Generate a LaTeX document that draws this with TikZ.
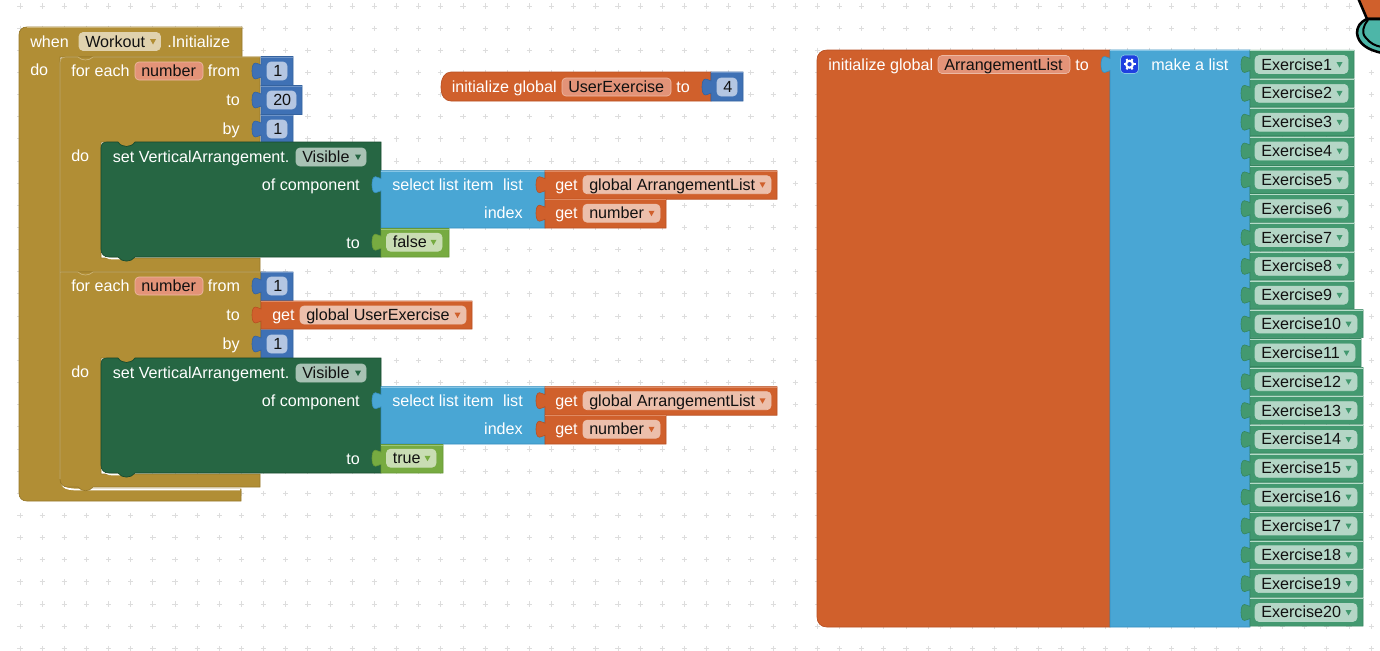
\documentclass[tikz,border=0pt]{standalone}
\usepackage{fontspec}
\setmainfont{Liberation Sans}
\definecolor{bv}{HTML}{3F71B5}\definecolor{bvd}{HTML}{35639F}\definecolor{bvl}{HTML}{6E94C8}
\definecolor{or}{HTML}{D0602C}\definecolor{ord}{HTML}{B84F22}\definecolor{orl}{HTML}{E08A62}
\definecolor{bl}{HTML}{49A6D4}\definecolor{bld}{HTML}{368FBE}\definecolor{bll}{HTML}{86C6E6}
\definecolor{gr}{HTML}{266643}\definecolor{grd}{HTML}{174A2E}\definecolor{grl}{HTML}{266643}
\definecolor{ex}{HTML}{439970}\definecolor{exd}{HTML}{35865F}\definecolor{exl}{HTML}{B5DCC8}
\definecolor{lo}{HTML}{77AB41}\definecolor{lod}{HTML}{679836}\definecolor{lol}{HTML}{9CC675}
\definecolor{go}{HTML}{B18E35}\definecolor{god}{HTML}{97782A}\definecolor{gol}{HTML}{CDB577}
\definecolor{pgo}{HTML}{E0D2AE}\definecolor{pv}{HTML}{E39378}\definecolor{pvb}{HTML}{EDB9A3}
\definecolor{pget}{HTML}{ECBFAB}\definecolor{pgr}{HTML}{A8C2B4}\definecolor{pex}{HTML}{B4D6C6}
\definecolor{plo}{HTML}{C9DDB3}\definecolor{pbv}{HTML}{B4C6E2}\definecolor{gridc}{HTML}{DDDDDD}
\definecolor{teal}{HTML}{4DB6A8}\definecolor{tx}{HTML}{111111}\definecolor{mut}{HTML}{1F40E0}
\newcount\tn
\tikzset{
  lab/.style={inner sep=0pt,font=\fontsize{12.1}{14}\selectfont,text=white},
  labk/.style={inner sep=0pt,font=\fontsize{12.1}{14}\selectfont,text=tx},
}
\newcommand{\txt}[3]{\global\advance\tn by 1 \node[lab,anchor=base west] (n\the\tn) at (#1,#2+5.5) {#3};}
\newcommand{\txtr}[3]{\global\advance\tn by 1 \node[lab,anchor=base east] (n\the\tn) at (#1,#2+5.5) {#3};}
% pill: fill, border, x1, x2, cy, text
\newcommand{\pill}[6]{\fill[fill=#1,draw=#2,line width=.5pt,rounded corners=3pt] (#3,#5-9) rectangle (#4,#5+9);
  \global\advance\tn by 1 \node[labk,anchor=base west] (n\the\tn) at (#3+6,#5+5.5) {#6};}
\newcommand{\darrow}[3]{\fill[#3] (#1-3,#2-2.4) -- (#1+3,#2-2.4) -- (#1,#2+3) -- cycle;}
% value block: x1,y1,x2,y2,cy,colour
\newcommand{\vblock}[6]{\fill[fill=#6,draw=#6d,line width=.45pt] (#1,#2) -- (#3,#2) -- (#3,#4) -- (#1,#4) -- (#1,#5+6)
  .. controls (#1-2,#5+6) and (#1-2.5,#5+8) .. (#1-5.5,#5+8)
  .. controls (#1-8.5,#5+8) and (#1-9,#5+3) .. (#1-9,#5)
  .. controls (#1-9,#5-3) and (#1-8.5,#5-8) .. (#1-5.5,#5-8)
  .. controls (#1-2.5,#5-8) and (#1-2,#5-6) .. (#1,#5-6) -- cycle;
  \draw[#6l,line width=.5pt] (#1,#2+.5) -- (#3,#2+.5);}
% green setter + its children, vertical offset #1
\newcommand{\setter}[4]{%
  \draw[white,line width=1.3pt] (103,#1+252) .. controls (104,#1+256) and (107,#1+258.6) .. (113,#1+258.6) -- (120,#1+258.6);
  \fill[fill=gr,draw=grd,line width=.5pt] (107,#1+142) -- (118,#1+142) .. controls (122,#1+148) and (131,#1+148) .. (135,#1+142) -- (381,#1+142) -- (381,#1+257)
    -- (135,#1+257) .. controls (131,#1+262.5) and (122,#1+262.5) .. (118,#1+257) -- (109,#1+257) .. controls (104,#1+257) and (101,#1+254) .. (101,#1+249) -- (101,#1+148) .. controls (101,#1+144) and (103,#1+142) .. (107,#1+142) -- cycle;
  \txt{112.5}{#1+157}{set VerticalArrangement.}
  \pill{pgr}{pgr}{296}{366}{#1+157}{Visible}\darrow{358}{#1+157}{gr}
  \txtr{360}{#1+184.7}{of component}
  \txtr{360}{#1+242.7}{to}
  \vblock{381}{#1+170.7}{545}{#1+228}{#1+184.7}{bl}
  \txt{392}{#1+184.7}{select list item}
  \txtr{523}{#1+184.7}{list}
  \txtr{523}{#1+213.2}{index}
  \vblock{545}{#1+170.7}{777}{#1+199.2}{#1+184.7}{or}
  \txt{555}{#1+184.7}{get}
  \pill{pget}{pget}{583}{771}{#1+184.7}{global ArrangementList}\darrow{762.5}{#1+184.7}{or}
  \vblock{545}{#1+199.2}{666}{#1+228}{#1+213.2}{or}
  \txt{555}{#1+213.2}{get}
  \pill{pget}{pget}{583}{660}{#1+213.2}{number}\darrow{651.5}{#1+213.2}{or}
  \vblock{381}{#1+228.5}{#2}{#1+257}{#1+242.2}{lo}
  \pill{plo}{plo}{386.5}{#3}{#1+242.2}{#4}\darrow{#3-8.5}{#1+242.2}{lo}
}
\begin{document}
\begin{tikzpicture}[x=0.75pt,y=-0.75pt]
\useasboundingbox (0,0) rectangle (1380,650);
\fill[white] (0,0) rectangle (1380,650);
% workspace grid
\foreach \i in {-1,...,62} \foreach \j in {0,...,29}
  \draw[gridc,line width=.7pt] (20+22.15*\i-2.6,6+22.15*\j) -- ++(5.2,0) (20+22.15*\i,6+22.15*\j-2.6) -- ++(0,5.2);
% mascot corner
\fill[fill=or,draw=black,line width=1.9pt] (1358,-2) -- (1367,19) -- (1382,19) -- (1382,-2) -- cycle;
\fill[fill=teal,draw=black,line width=1.9pt] (1367,19) .. controls (1360,22) and (1357,27) .. (1357,33) .. controls (1358,44) and (1368,50) .. (1382,53) -- (1382,19) -- cycle;
\draw[black,line width=1.5pt] (1368,20) .. controls (1363,26) and (1361,33) .. (1366,38) .. controls (1370,43) and (1375,46) .. (1382,47);
% when block
\fill[fill=go,draw=god,line width=.5pt] (27,27) -- (242,27) -- (242,57) -- (60,57) -- (60,489) -- (241,489) -- (241,501) -- (27,501) .. controls (22,501) and (19,498) .. (19,493) -- (19,35) .. controls (19,30) and (22,27) .. (27,27) -- cycle;
\draw[gol,line width=.5pt] (27,27.5) -- (242,27.5);
\txt{30}{41.5}{when}
\pill{pgo}{pgo}{79}{160.5}{41.5}{Workout}\darrow{153}{41.5}{go}
\txt{167}{41.5}{.Initialize}
\txt{30}{70}{do}
% first for each
\fill[fill=go,draw=god,line width=.5pt] (66,57) -- (260,57) -- (260,142) -- (135,142) .. controls (131,148) and (122,148) .. (118,142) -- (101,142) -- (101,258) -- (260,258) -- (260,272) -- (60,272) -- (60,63) .. controls (60,59) and (62,57) .. (66,57) -- cycle;
\draw[gol,line width=.5pt] (60,272) -- (60,63) .. controls (60,59) and (62,57) .. (66,57) -- (78,57) .. controls (82,61) and (89,61) .. (93,57) -- (260,57);
\txt{71}{71}{for each}
\pill{pv}{pvb}{135}{203}{71}{number}
\txt{207.5}{71}{from}
\txtr{240}{100}{to}
\txtr{240}{129}{by}
\txt{71}{156}{do}
\vblock{261}{56.5}{293}{85.5}{71}{bv}
\pill{pbv}{pbv}{267}{287}{71}{1}
\vblock{261}{85.5}{302}{114.5}{100}{bv}
\pill{pbv}{pbv}{267}{296}{100}{20}
\vblock{261}{114.5}{293}{143}{129}{bv}
\pill{pbv}{pbv}{267}{287}{129}{1}
\setter{0}{449}{442}{false}
% second for each
\fill[go] (55,470) rectangle (80,490);
\draw[white,line width=1.3pt] (62,484) .. controls (64,488) and (67,489) .. (74,489.4) -- (240,489.4);
\fill[fill=go,draw=god,line width=.5pt] (60,272) -- (261,272) -- (261,358) -- (135,358) .. controls (131,364) and (122,364) .. (118,358) -- (101,358) -- (101,474) -- (260,474) -- (260,487)
  -- (93,487) .. controls (89,492) and (82,492) .. (78,487) -- (68,487) .. controls (63,487) and (60,484) .. (60,479) -- cycle;
\draw[gol,line width=.5pt] (60,479) -- (60,272) -- (78,272) .. controls (82,276) and (89,276) .. (93,272) -- (261,272);
\txt{71}{286}{for each}
\pill{pv}{pvb}{135}{203}{286}{number}
\txt{207.5}{286}{from}
\txtr{240}{315}{to}
\txtr{240}{344}{by}
\txt{71}{372}{do}
\vblock{261}{272}{293}{301}{286}{bv}
\pill{pbv}{pbv}{267}{287}{286}{1}
\vblock{261}{329}{293}{358.5}{344}{bv}
\pill{pbv}{pbv}{267}{287}{344}{1}
\vblock{261}{301}{472}{329}{315}{or}
\txt{272}{315}{get}
\pill{pget}{pget}{300}{466}{315}{global UserExercise}\darrow{457.5}{315}{or}
\setter{216}{443}{436}{true}
% initialize global UserExercise
\fill[fill=or,draw=ord,line width=.5pt] (451,72) -- (711,72) -- (711,101) -- (451,101) .. controls (445,101) and (441,96) .. (441,87) .. controls (441,78) and (445,72) .. (451,72) -- cycle;
\txt{451.5}{87}{initialize global}
\pill{pv}{pvb}{562}{671}{87}{UserExercise}
\txt{676}{87}{to}
\vblock{711}{72}{743}{101}{87}{bv}
\pill{pbv}{pbv}{717}{737}{87}{4}
% initialize global ArrangementList
\fill[fill=or,draw=ord,line width=.5pt] (827,50) -- (1110,50) -- (1110,627) -- (827,627) .. controls (821,627) and (817,623) .. (817,617) -- (817,60) .. controls (817,54) and (821,50) .. (827,50) -- cycle;
\txt{828}{64.5}{initialize global}
\pill{pv}{pvb}{938}{1070}{64.5}{ArrangementList}
\txt{1075}{64.5}{to}
% make a list
\vblock{1110}{50}{1250}{627}{64.5}{bl}
\fill[fill=mut,draw=bll,line width=.5pt,rounded corners=3pt] (1120.5,55) rectangle (1138.5,73.5);
\foreach \a in {0,60,...,300} \draw[white,line width=1.5pt] (1129.5,64.2) -- ++(\a:6);
\fill[white] (1129.5,64.2) circle[radius=4.6];
\fill[mut] (1129.5,64.2) circle[radius=2.2];
\txt{1151}{64.5}{make a list}
% Exercises
\foreach \i/\r in {1/1354,2/1354,3/1354,4/1354,5/1354,6/1354,7/1354,8/1354,9/1354,10/1363,11/1361,12/1363,13/1363,14/1363,15/1363,16/1363,17/1363,18/1363,19/1363,20/1363}{
  \pgfmathsetmacro{\cy}{64.5+28.84*(\i-1)}
  \pgfmathsetmacro{\pr}{\r-6}
  \pgfmathsetmacro{\ar}{\r-14.5}
  \vblock{1250}{\cy-14.4}{\r}{\cy+13.6}{\cy}{ex}
  \pill{pex}{pex}{1255}{\pr}{\cy}{Exercise\i}
  \darrow{\ar}{\cy}{ex}
}
\end{tikzpicture}
\end{document}
